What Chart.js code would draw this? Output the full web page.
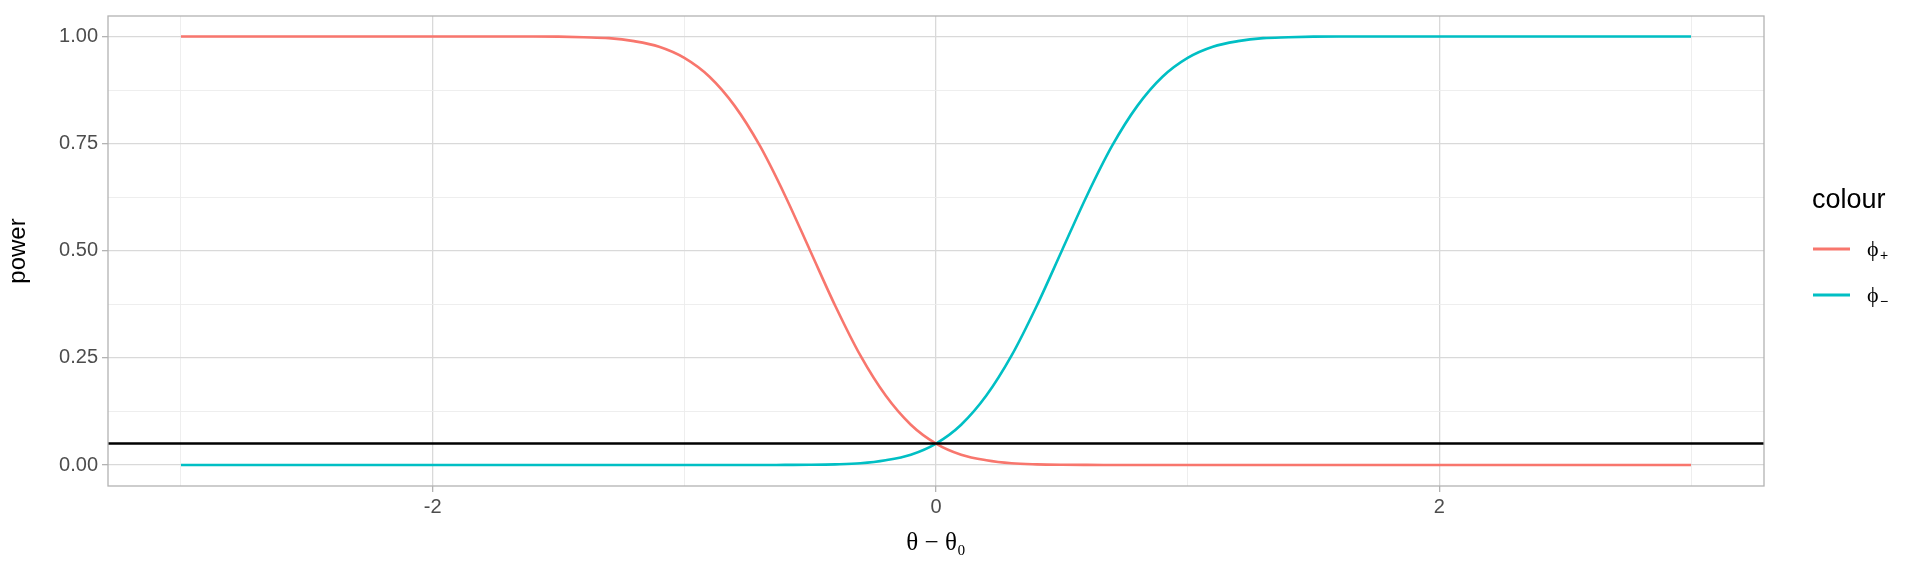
<!DOCTYPE html>
<html>
<head>
<meta charset="utf-8">
<script src="https://cdn.jsdelivr.net/npm/chart.js@4"></script>
<style>
  html, body { margin: 0; padding: 0; background: #fff; }
  #wrap { width: 1920px; height: 576px; position: relative; }
</style>
</head>
<body>
<div id="wrap"><canvas id="c" width="1920" height="576"></canvas></div>
<script>
const thetaValues = [-3.0, -1.6, -1.5, -1.4, -1.3, -1.2, -1.1, -1.0, -0.9, -0.8, -0.7, -0.6, -0.5, -0.4, -0.3, -0.2, -0.1, 0.0,
    0.1, 0.2, 0.3, 0.4, 0.5, 0.6, 0.7, 0.8, 0.9, 1.0, 1.1, 1.2, 1.3, 1.4, 1.5, 1.6, 3.0];
const powerPlus = [1.000, 1.000, 0.9995, 0.998, 0.996, 0.989, 0.976, 0.950, 0.906, 0.838, 0.745, 0.629, 0.500, 0.371, 0.255, 0.162, 0.094, 0.050,
    0.024, 0.011, 0.004, 0.0015, 0.0005, 0.0002, 0.0001, 0, 0, 0, 0, 0, 0, 0, 0, 0, 0];
const powerMinus = [0, 0, 0, 0, 0, 0, 0, 0, 0, 0, 0.0001, 0.0002, 0.0005, 0.0015, 0.004, 0.011, 0.024, 0.050,
    0.094, 0.162, 0.255, 0.371, 0.500, 0.629, 0.745, 0.838, 0.906, 0.950, 0.976, 0.989, 0.996, 0.998, 0.9995, 1.000, 1.000];
const alphaLevel = 0.05;
const xTicks = [-3, -2, -1, 0, 1, 2, 3];
const yTicks = [0, 0.125, 0.25, 0.375, 0.5, 0.625, 0.75, 0.875, 1.0];

const plusData = thetaValues.map((t, i) => ({ x: t, y: powerPlus[i] }));
const minusData = thetaValues.map((t, i) => ({ x: t, y: powerMinus[i] }));

const RED = '#F8766D';
const TEAL = '#00BFC4';
const isMajorX = (v) => Math.abs(v) % 2 === 0;
const isMajorY = (v) => Math.abs((v * 4) - Math.round(v * 4)) < 1e-9;

const panelAndLegend = {
    id: 'panelAndLegend',
    afterDraw(chart) {
        const { ctx, chartArea: a } = chart;
        ctx.save();
        ctx.strokeStyle = '#b3b3b3';
        ctx.lineWidth = 1.3;
        ctx.strokeRect(a.left, a.top, a.right - a.left, a.bottom - a.top);

        ctx.fillStyle = '#000';
        ctx.font = '27px "Liberation Sans", Arial, sans-serif';
        ctx.textBaseline = 'alphabetic';
        ctx.fillText('colour', 1812, 208);

        const items = [[RED, '+', 249], [TEAL, '\u2212', 295]];
        items.forEach(([col, sub, y]) => {
            ctx.strokeStyle = col;
            ctx.lineWidth = 2.8;
            ctx.beginPath();
            ctx.moveTo(1813, y);
            ctx.lineTo(1850, y);
            ctx.stroke();
            ctx.fillStyle = '#000';
            ctx.font = '22px "Liberation Serif", serif';
            ctx.fillText('\u03d5', 1867, y + 7);
            ctx.font = '14px "Liberation Sans", sans-serif';
            ctx.fillText(sub, 1880, y + 11);
        });
        ctx.restore();
    },
};

new Chart(document.getElementById('c'), {
    type: 'line',
    data: {
        datasets: [
            { data: plusData, borderColor: RED, borderWidth: 2.6, pointRadius: 0, cubicInterpolationMode: 'monotone', order: 2 },
            { data: minusData, borderColor: TEAL, borderWidth: 2.6, pointRadius: 0, cubicInterpolationMode: 'monotone', order: 2 },
            { data: [{ x: -3.29, y: alphaLevel }, { x: 3.29, y: alphaLevel }], borderColor: '#000', borderWidth: 2.6, pointRadius: 0, order: 1 },
        ],
    },
    options: {
        responsive: false,
        animation: false,
        layout: { padding: { top: 15, right: 156, left: 0, bottom: 14 } },
        plugins: { legend: { display: false }, tooltip: { enabled: false } },
        scales: {
            x: {
                type: 'linear',
                min: -3.29,
                max: 3.29,
                afterBuildTicks: (s) => { s.ticks = xTicks.map((v) => ({ value: v })); },
                afterFit: (s) => { s.height = 76; },
                border: { display: false },
                grid: {
                    color: (c) => (isMajorX(c.tick.value) ? '#d9d9d9' : '#ececec'),
                    lineWidth: (c) => (isMajorX(c.tick.value) ? 1.3 : 0.9),
                    tickColor: (c) => (isMajorX(c.tick.value) ? '#b3b3b3' : 'rgba(0,0,0,0)'),
                    tickLength: 6,
                },
                ticks: {
                    color: '#4d4d4d',
                    font: { size: 20, family: '"Liberation Sans", Arial, sans-serif' },
                    padding: 3,
                    maxRotation: 0,
                    autoSkip: false,
                    callback: (v) => (isMajorX(v) ? String(v) : ''),
                },
                title: {
                    display: true,
                    text: '\u03b8 \u2212 \u03b8\u2080',
                    color: '#000',
                    font: { size: 25, family: '"Liberation Serif", serif' },
                    padding: { top: 0 },
                },
            },
            y: {
                min: -0.049,
                max: 1.0477,
                afterBuildTicks: (s) => { s.ticks = yTicks.map((v) => ({ value: v })); },
                afterFit: (s) => { s.width = 108; },
                border: { display: false },
                grid: {
                    color: (c) => (isMajorY(c.tick.value) ? '#d9d9d9' : '#ececec'),
                    lineWidth: (c) => (isMajorY(c.tick.value) ? 1.3 : 0.9),
                    tickColor: (c) => (isMajorY(c.tick.value) ? '#b3b3b3' : 'rgba(0,0,0,0)'),
                    tickLength: 6,
                },
                ticks: {
                    color: '#4d4d4d',
                    font: { size: 20, family: '"Liberation Sans", Arial, sans-serif' },
                    padding: 4,
                    autoSkip: false,
                    callback: (v) => (isMajorY(v) ? v.toFixed(2) : ''),
                },
                title: {
                    display: true,
                    text: 'power',
                    color: '#000',
                    font: { size: 24, family: '"Liberation Sans", Arial, sans-serif' },
                    padding: { bottom: 4 },
                },
            },
        },
    },
    plugins: [panelAndLegend],
});
</script>
</body>
</html>
